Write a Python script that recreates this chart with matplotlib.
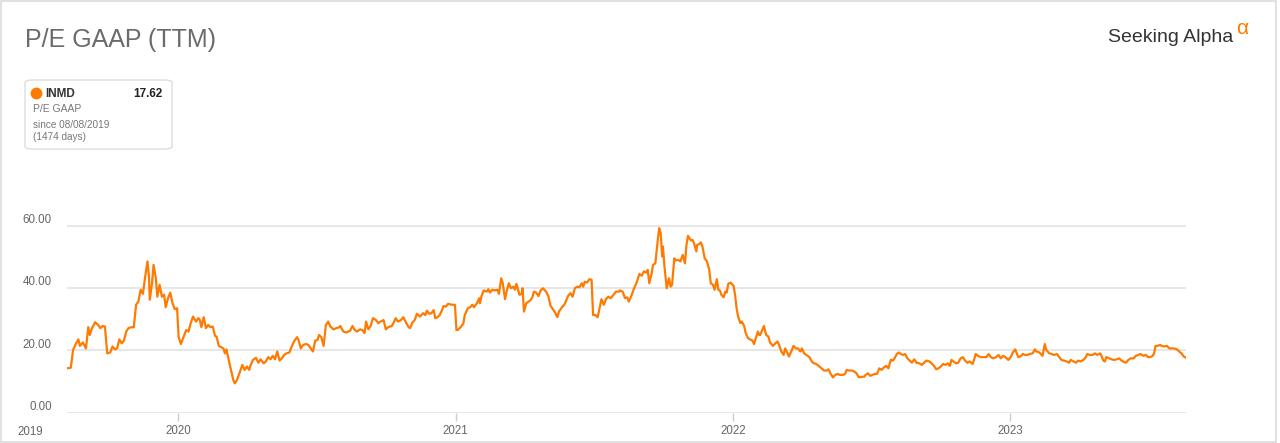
import numpy as np
import pandas as pd
import matplotlib
matplotlib.use("Agg")
import matplotlib.pyplot as plt
from matplotlib.patches import Rectangle, FancyBboxPatch
from matplotlib.lines import Line2D
from matplotlib.transforms import ScaledTranslation

plt.rcParams['font.family'] = ['Liberation Sans', 'DejaVu Sans']

# INMD P/E GAAP (TTM); days counted from 08/08/2019
start = pd.Timestamp('2019-08-08')
days = [
    0, 5, 8, 12, 15, 17, 21, 25, 28, 30, 33, 37, 41, 44, 47, 50, 53, 57, 60, 63,
    66, 69, 72, 75, 78, 81, 85, 88, 91, 94, 97, 100, 103, 106, 108, 109, 112, 114, 117, 119,
    122, 125, 128, 130, 133, 136, 139, 142, 145, 147, 150, 153, 157, 160, 163, 166, 170, 173,
    175, 177, 180, 183, 186, 189, 192, 195, 197, 200, 203, 206, 208, 210, 213, 217, 219, 221,
    224, 228, 231, 234, 237, 240, 242, 245, 249, 252, 255, 259, 262, 265, 268, 271, 274, 277,
    280, 283, 286, 289, 293, 296, 299, 303, 305, 308, 311, 315, 318, 321, 324, 327, 330, 332,
    335, 338, 341, 344, 347, 351, 355, 359,
    360, 364, 368, 373, 376, 379, 382, 386, 389, 392, 394, 397, 400, 403, 407, 410, 413, 417,
    420, 423, 428, 431, 433, 436, 440, 443, 447, 450, 452, 455, 458, 461, 465, 469, 472, 474,
    477, 480, 483, 485, 488, 491, 494, 496, 499, 502, 507, 511, 513, 515, 519, 522, 524, 528,
    531, 534, 536, 540, 543,
    544, 546, 549, 553, 555, 557, 560, 564, 567, 569, 572, 574, 577, 579, 582, 585, 588, 590,
    592, 596, 599, 600, 602, 605, 608, 611, 613, 615, 618, 621, 624, 627, 631, 634, 637, 640,
    643, 646, 648, 652, 655, 657, 660, 663, 666, 669, 672, 675, 678, 680, 682, 685, 688, 691,
    693, 696, 699, 701, 704, 707, 710, 713, 716, 720, 723, 727,
    728, 732, 735, 738, 740, 744, 747, 750, 754, 757, 760, 763, 765, 767, 770, 772, 775, 778,
    780, 782, 784, 785, 787, 790, 792, 793, 795, 797, 800, 802, 805, 808, 811, 814, 816, 818,
    822, 824, 826, 829, 830, 833, 835, 837, 840, 843, 846, 848, 851, 853, 856, 858, 860, 862,
    865, 867, 869, 871, 874, 878, 880, 882, 884, 887, 889, 892, 894, 897, 901, 903, 905, 908,
    910, 912,
    913, 915, 918, 921, 924, 926, 930, 933, 936, 938, 941, 944, 946, 948, 951, 954, 957, 960,
    963, 966, 968, 971, 974, 978, 981, 984, 987, 991, 994, 997, 1001, 1003, 1006, 1009, 1012,
    1015, 1018, 1022, 1025, 1027, 1030, 1034, 1037, 1040, 1043, 1047, 1050, 1052, 1055, 1058,
    1061, 1064, 1067, 1070, 1073, 1076, 1079, 1082, 1085, 1088, 1091, 1093, 1096,
    1097, 1101, 1104, 1107, 1110, 1113, 1116, 1119, 1123, 1126, 1129, 1132, 1136, 1139, 1142,
    1145, 1148, 1151, 1154, 1157, 1160, 1163, 1165, 1168, 1171, 1174, 1177, 1180, 1183, 1186,
    1189, 1193, 1195, 1197, 1200, 1204, 1207, 1211, 1214, 1217, 1220, 1224, 1227, 1230, 1233,
    1236, 1240, 1243, 1246, 1249, 1251, 1253, 1256, 1259, 1262, 1265, 1268, 1272, 1275, 1277,
    1281,
    1282, 1285, 1288, 1290, 1294, 1297, 1300, 1304, 1307, 1310, 1313, 1317, 1320, 1322, 1326,
    1329, 1332, 1335, 1339, 1342, 1344, 1347, 1351, 1354, 1357, 1361, 1363, 1365, 1367, 1369,
    1373, 1376, 1379, 1383, 1386, 1388, 1391, 1395, 1398, 1401, 1405, 1408, 1411, 1414, 1418,
    1421, 1424, 1427, 1430, 1432, 1434, 1436, 1440, 1442, 1445, 1449, 1452, 1455, 1458, 1462,
    1465, 1468, 1471, 1474,
]
pe = [
    14.2, 14.4, 20.1, 22.2, 23.5, 21.4, 22.5, 20.6, 27.4, 24.9, 27.1, 29.0, 28.1, 27.1, 27.8, 27.6, 19.0, 19.3, 21.2, 20.3,
    20.6, 23.5, 22.2, 23.1, 26.0, 27.1, 27.4, 27.4, 34.6, 35.6, 39.4, 38.1, 43.6, 48.5, 43.6, 36.2, 41.5, 47.4, 43.1, 37.2,
    41.0, 37.2, 37.8, 33.8, 36.7, 38.5, 35.1, 33.2, 33.5, 24.4, 22.0, 23.9, 26.5, 26.0, 28.7, 30.8, 29.2, 30.3,
    29.7, 27.4, 30.6, 27.1, 28.1, 27.4, 27.6, 24.6, 24.4, 21.4, 21.0, 20.6, 19.0, 20.3, 16.9, 12.6, 10.5, 9.4,
    10.5, 13.2, 15.3, 13.7, 14.8, 13.7, 15.3, 16.9, 17.6, 16.0, 17.1, 15.8, 16.4, 17.8, 17.1, 18.2, 17.1, 19.6,
    16.7, 17.4, 18.5, 19.0, 19.3, 21.2, 22.8, 24.2, 23.3, 20.6, 21.7, 22.0, 21.7, 20.6, 19.6, 23.1, 23.3, 24.9,
    24.2, 21.4, 28.1, 29.2, 27.6, 26.7, 27.1, 27.4,
    27.8, 26.0, 25.7, 26.3, 27.8, 26.5, 26.0, 26.7, 26.5, 25.5, 29.2, 26.7, 27.8, 30.3, 29.7, 28.7, 29.2, 29.7,
    26.7, 27.4, 27.8, 29.2, 30.3, 29.2, 29.7, 30.6, 28.7, 27.4, 27.1, 28.9, 29.7, 31.7, 30.8, 31.9, 31.3, 32.7,
    31.7, 31.9, 32.9, 30.3, 30.6, 31.3, 32.9, 34.2, 34.0, 34.9, 34.6, 34.6, 26.5, 26.5, 27.6, 28.5, 31.3, 33.5,
    33.8, 34.6, 33.8, 35.1, 36.7,
    35.1, 37.4, 39.2, 38.8, 39.6, 38.5, 39.4, 39.2, 39.4, 38.1, 43.1, 41.5, 36.4, 38.8, 41.5, 39.9, 40.4, 39.4,
    41.3, 37.8, 38.1, 39.9, 32.4, 35.1, 35.6, 36.2, 37.0, 38.8, 38.5, 37.4, 39.2, 39.9, 38.8, 37.4, 34.2, 33.2,
    32.1, 30.6, 32.4, 33.8, 34.6, 35.6, 37.4, 38.3, 37.2, 39.9, 40.4, 40.2, 41.5, 40.4, 42.0, 41.7, 42.8, 42.6,
    31.3, 31.3, 30.6, 32.9, 36.4, 34.6, 36.4, 37.2, 36.7, 37.8, 38.8, 38.8,
    39.2, 38.8, 36.7, 37.0, 35.6, 37.8, 39.9, 41.5, 44.5, 43.9, 45.3, 44.9, 45.8, 41.5, 44.5, 47.4, 47.9, 54.9,
    59.2, 57.6, 50.1, 53.3, 46.9, 39.9, 42.0, 43.1, 40.4, 41.0, 49.5, 48.8, 49.0, 48.5, 50.6, 47.9, 53.8, 56.7,
    55.2, 55.4, 54.3, 51.7, 53.8, 54.1, 54.6, 53.3, 49.5, 48.5, 45.8, 41.5, 41.0, 39.4, 42.8, 39.4, 39.2, 37.8,
    37.0, 38.8, 38.5, 41.3, 41.7, 40.7, 37.8, 33.5, 30.8, 28.7, 29.2, 27.8, 25.5, 23.9, 23.3, 23.1, 22.0, 24.4,
    26.0, 24.9,
    24.9, 26.0, 27.8, 24.9, 24.4, 22.5, 21.4, 22.2, 22.8, 21.7, 19.6, 18.5, 20.6, 19.6, 18.0, 19.6, 21.4, 20.6,
    20.6, 19.6, 20.6, 19.0, 18.5, 17.8, 16.4, 15.8, 15.6, 14.8, 14.2, 13.5, 13.5, 13.9, 12.4, 11.3, 12.1,
    12.4, 12.1, 12.1, 12.4, 13.7, 13.5, 13.5, 13.2, 12.6, 11.3, 11.5, 11.5, 12.1, 12.6, 11.8,
    12.1, 12.4, 12.4, 14.2, 13.7, 14.5, 15.0, 14.2, 16.9, 16.7, 17.8, 18.8, 19.3,
    19.0, 18.5, 18.8, 17.4, 16.7, 16.0, 17.1, 16.0, 15.8, 15.3, 16.0, 16.7, 16.4, 15.8, 15.0,
    13.9, 14.2, 14.8, 15.6, 15.3, 15.8, 15.0, 16.9, 16.4, 15.8, 16.0, 17.4, 17.8, 16.7, 16.0,
    16.4, 15.6, 17.1, 18.8, 18.2, 17.8, 17.8, 17.8, 18.8, 17.8, 17.4, 17.8, 18.5, 17.4, 18.2,
    17.8, 16.9, 17.8, 19.3, 20.3, 19.0, 17.8, 18.0, 18.8, 18.5, 18.5, 18.8, 19.0, 20.3, 19.6,
    19.3,
    19.0, 18.2, 22.0, 20.1, 19.0, 18.8, 18.5, 18.8, 17.8, 16.9, 16.7, 16.4, 16.0, 16.9, 16.4,
    16.0, 16.7, 16.4, 16.9, 17.8, 18.8, 18.5, 18.5, 19.0, 18.5, 19.0, 18.0, 16.7, 16.4, 17.8,
    17.4, 17.1, 16.9, 17.1, 17.4, 16.9, 16.4, 16.0, 16.9, 17.4, 17.4, 18.2, 18.5, 18.8, 18.2,
    18.5, 17.8, 17.8, 18.2, 19.0, 21.4, 21.4, 21.7, 21.4, 21.2, 21.4, 20.6, 20.6, 20.6, 20.3,
    19.6, 19.0, 18.0, 17.62,
]
year_ticks = ['2020', '2021', '2022', '2023']
y_ticks = [0, 20, 40, 60]

dates = start + pd.to_timedelta(days, unit='D')

orange = '#ff7a00'
W, H = 1280, 443
fig = plt.figure(figsize=(W / 100, H / 100), dpi=100)
fig.patch.set_facecolor('white')

# outer frame
fig.patches.append(Rectangle((0.0008, 0.003), 0.996, 0.995, transform=fig.transFigure,
                             fill=False, edgecolor='#dcdcdc', lw=1.2))

ax = fig.add_axes([67 / W, 1 - 412.6 / H, (1186 - 67) / W, (412.6 - 210) / H])
ax.plot(dates, pe, color=orange, lw=1.6, solid_joinstyle='round')

ax.set_xlim(dates[0], dates[-1])
ax.set_ylim(0, 65)
for s in ax.spines.values():
    s.set_visible(False)
ax.set_yticks(y_ticks)
ax.set_yticklabels([f'{v:.2f}' for v in y_ticks])
ax.yaxis.grid(True, color='#e3e3e3', lw=1.2)
ax.tick_params(axis='y', length=0, pad=11, labelsize=8.3, labelcolor='#666666')
for lab in ax.get_yticklabels():
    lab.set_transform(lab.get_transform() + ScaledTranslation(0, 5 / 72, fig.dpi_scale_trans))

ax.set_xticks(pd.to_datetime([f'{y}-01-01' for y in year_ticks]))
ax.set_xticklabels(year_ticks)
ax.tick_params(axis='x', length=6, width=1, color='#cccccc', pad=3, labelsize=8.3,
               labelcolor='#666666')
ax.set_axisbelow(True)
ax.text(-37 / (1186 - 67), -19.5 / (412.6 - 210), '2019', transform=ax.transAxes,
        ha='center', va='center', fontsize=8.3, color='#666666')

# title and logo
fig.text(25 / W, 1 - 40 / H, 'P/E GAAP (TTM)', fontsize=18, color='#6b6b6b',
         ha='left', va='center')
fig.text(1108 / W, 1 - 37 / H, 'Seeking Alpha', fontsize=14, color='#333333',
         ha='left', va='center')
fig.text(1236 / W, 1 - 28 / H, 'α', fontsize=15, color=orange, ha='left', va='center')

# legend card
fig.patches.append(FancyBboxPatch((25 / W, 1 - 149 / H), 147 / W, 69 / H,
                                  boxstyle='round,pad=0,rounding_size=0.006',
                                  transform=fig.transFigure, facecolor='white',
                                  edgecolor='#dddddd', lw=1))
fig.add_artist(Line2D([36 / W], [1 - 93 / H], marker='o', markersize=7.5, color=orange,
                      transform=fig.transFigure))
fig.text(45 / W, 1 - 94 / H, 'INMD', fontsize=8.5, fontweight='bold', color='#333333',
         ha='left', va='center')
fig.text(163 / W, 1 - 94 / H, f'{pe[-1]:.2f}', fontsize=8.5, fontweight='bold',
         color='#222222', ha='right', va='center')
fig.text(33 / W, 1 - 109 / H, 'P/E GAAP', fontsize=7.5, color='#777777', ha='left', va='center')
fig.text(33 / W, 1 - 125 / H, 'since 08/08/2019', fontsize=7.2, color='#777777',
         ha='left', va='center')
fig.text(33 / W, 1 - 137 / H, f'({days[-1]} days)', fontsize=7.2, color='#777777',
         ha='left', va='center')

fig.savefig('out.png', dpi=100, facecolor='white')
